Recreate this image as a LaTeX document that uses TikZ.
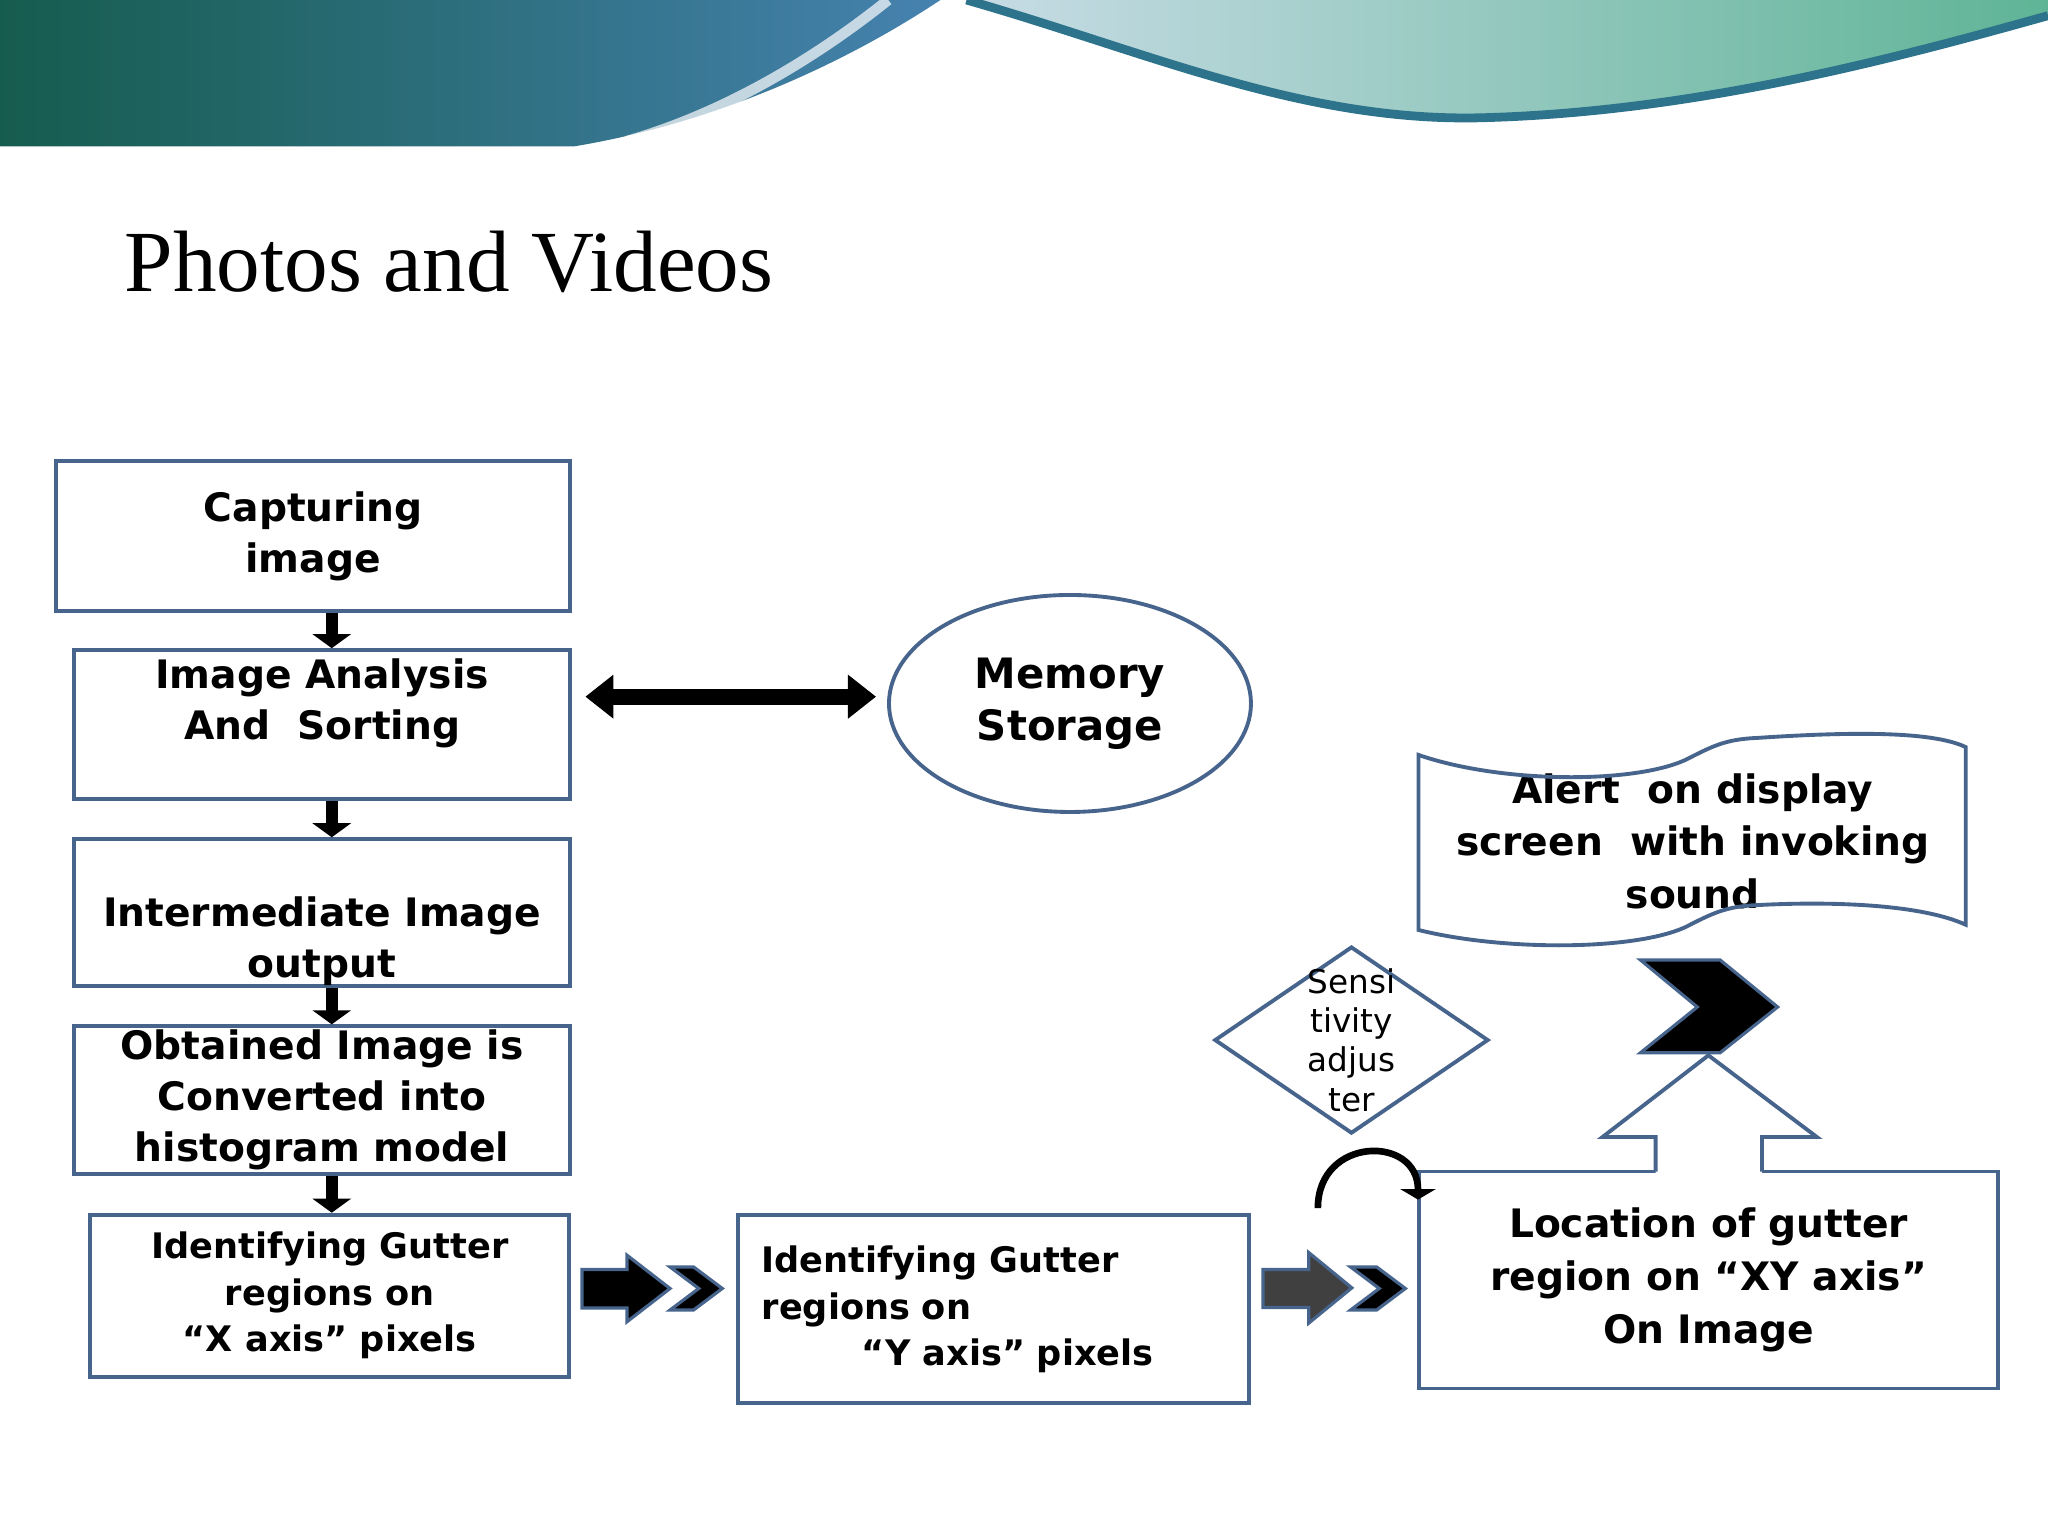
\documentclass[tikz,border=0pt]{standalone}
\usepackage{fontspec}
\setmainfont{DejaVu Sans}
\newfontfamily\titlefont{Liberation Serif}
\usetikzlibrary{arrows.meta,shapes.geometric,positioning,calc}

\definecolor{boxline}{RGB}{70,100,140}
\definecolor{bandark}{RGB}{22,92,78}
\definecolor{banmid}{RGB}{40,118,130}
\definecolor{banblue}{RGB}{70,130,175}
\definecolor{banlight}{RGB}{200,220,230}
\definecolor{bangreen}{RGB}{95,180,150}
\definecolor{banrim}{RGB}{45,115,140}
\definecolor{arrgray}{RGB}{64,64,64}

\begin{document}
\begin{tikzpicture}[x=0.01306cm, y=-0.01306cm,
    stepbox/.style={draw=boxline, line width=1.1pt, inner sep=0pt, align=center, font=\fontsize{11.15}{14.5}\selectfont\bfseries},
    gutbox/.style={stepbox, font=\fontsize{10}{13.2}\selectfont\bfseries},
    sensetext/.style={align=center, inner sep=0pt, font=\fontsize{9.3}{11.15}\selectfont},
    downarr/.style={-{Triangle[width=10.8pt,length=4pt]}, line width=3.3pt},
    dblarr/.style={{Triangle[width=12pt,length=8pt]}-{Triangle[width=12pt,length=8pt]}, line width=4.6pt},
    curvarr/.style={-{Triangle[width=10pt,length=3pt]}, line width=1.9pt},
    blockarr/.style={draw=boxline, line width=0.9pt, line join=miter}
]
\useasboundingbox (0,0) rectangle (1568,1176);
\fill[white] (0,0) rectangle (1568,1176);

% banner
\shade[left color=bandark, middle color=banmid, right color=banblue] (0,0) -- (720,0) .. controls (660,40) and (560,92) .. (440,112) -- (0,112) -- cycle;
\draw[white, line width=3pt, opacity=0.7] (480,108) .. controls (560,85) and (630,40) .. (680,0);
\shade[left color=banlight, right color=bangreen] (740,0) .. controls (880,40) and (1000,95) .. (1140,90) .. controls (1300,85) and (1450,45) .. (1568,12) -- (1568,0) -- cycle;
\draw[banrim, line width=2.5pt] (740,0) .. controls (880,40) and (1000,95) .. (1140,90) .. controls (1300,85) and (1450,45) .. (1568,12);

\node[font=\titlefont\fontsize{24.8}{29}\selectfont, anchor=base west, inner sep=0pt] (title) at (95,223) {Photos and Videos};

\node[stepbox, minimum width=5.14cm, minimum height=1.50cm] (cap) at (239.8,410.3) {Capturing\\image};
\node[stepbox, minimum width=4.96cm, minimum height=1.49cm] (ana) at (246.6,554.8) {Image Analysis\\And\ \ Sorting\\\mbox{}};
\node[stepbox, minimum width=4.96cm, minimum height=1.47cm] (inter) at (246.6,698.8) {\strut\\Intermediate Image\\output};
\node[stepbox, minimum width=4.96cm, minimum height=1.48cm] (hist) at (246.6,842.4) {Obtained Image is\\Converted into\\histogram model};
\node[gutbox, minimum width=4.79cm, minimum height=1.62cm] (xgut) at (252.5,992) {Identifying Gutter\\regions on\\“X axis” pixels};
\node[gutbox, minimum width=5.11cm, minimum height=1.88cm, text width=4.64cm, align=left] (ygut) at (760.8,1002.5) {Identifying Gutter\\regions on\\\hspace*{2.85em}“Y axis” pixels};
\node[stepbox, font=\fontsize{11.15}{15}\selectfont\bfseries, minimum width=5.79cm, minimum height=2.17cm] (loc) at (1308.2,980) {Location of gutter\\region on “XY axis”\\On Image};

\node[stepbox, ellipse, minimum width=3.62cm, minimum height=2.17cm, font=\fontsize{11.9}{14.9}\selectfont\bfseries] (mem) at (819.2,538.6) {Memory\\Storage};
\node[draw=boxline, line width=1.1pt, diamond, minimum width=2.74cm, minimum height=1.87cm, inner sep=0pt,
      label={[sensetext]center:Sensi\\tivity\\adjus\\ter}] (sens) at (1034.7,796.3) {};

\node[font=\fontsize{11.15}{14.9}\selectfont\bfseries, align=center] (alert) at (1296,644) {Alert\ \ on display\\screen\ \ with invoking\\sound};
\draw[boxline, line width=1.1pt] (1086,578) .. controls (1150,600) and (1250,600) .. (1290,582) .. controls (1310,572) and (1320,566) .. (1345,565) .. controls (1420,560) and (1480,560) .. (1505,572) -- (1505,708) .. controls (1470,692) and (1400,690) .. (1345,693) .. controls (1320,694) and (1310,700) .. (1290,710) .. controls (1250,728) and (1150,728) .. (1086,712) -- cycle;

\coordinate (axis) at (254,0);
\draw[downarr] (cap.south -| axis) -- (ana.north -| axis);
\draw[downarr] (ana.south -| axis) -- (inter.north -| axis);
\draw[downarr] (inter.south -| axis) -- (hist.north -| axis);
\draw[downarr] (hist.south -| axis) -- (xgut.north -| axis);

\draw[dblarr] ([shift={(10.2,-21.4)}]ana.east) -- ([shift={(-8.4,-5.2)}]mem.west);

\filldraw[blockarr, fill=black] (445.6,972) -- (480,972) -- (480,961) -- (513,986.5) -- (480,1012) -- (480,1001.5) -- (445.6,1001.5) -- cycle;
\filldraw[blockarr, fill=black] (513,970) -- (531,970) -- (553,986.5) -- (531,1003) -- (513,1003) -- (535,986.5) -- cycle;
\filldraw[blockarr, fill=arrgray] (967,972) -- (1002,972) -- (1002,959) -- (1035,986) -- (1002,1013) -- (1002,1001) -- (967,1001) -- cycle;
\filldraw[blockarr, fill=black] (1034,970) -- (1054,970) -- (1076,986.5) -- (1054,1003) -- (1034,1003) -- (1056,986.5) -- cycle;

\fill[white] (1267.6,899) -- (1267.6,870.5) -- (1227,870.5) -- (1308,808) -- (1391,870.5) -- (1349,870.5) -- (1349,899) -- cycle;
\draw[boxline, line width=1.1pt, line join=miter] (1267.6,897) -- (1267.6,870.5) -- (1227,870.5) -- (1308,808) -- (1391,870.5) -- (1349,870.5) -- (1349,897);
\filldraw[blockarr, fill=black] (1256,735) -- (1317,735) -- (1361,771) -- (1317,806) -- (1256,806) -- (1299.5,771) -- cycle;

\coordinate (curvstart) at (1009,925);
\draw[curvarr] (curvstart) .. controls +(0,-55) and +(0,-50) .. ([shift={(0.6,23)}]loc.north west);
\end{tikzpicture}
\end{document}
